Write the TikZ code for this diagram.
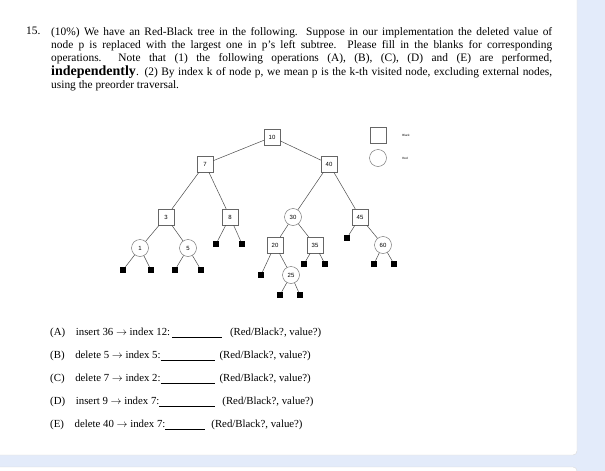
\documentclass[tikz,border=0pt]{standalone}
\usepackage{fontspec}
\setmainfont{Liberation Serif}
\newfontfamily\hel{Liberation Sans}
\begin{document}
\begin{tikzpicture}[x=1pt,y=-1pt,
  bnode/.style={draw=black!60,minimum size=16pt,inner sep=0pt,font=\hel\fontsize{6}{7}\selectfont},
  rnode/.style={draw=black!60,circle,minimum size=17pt,inner sep=0pt,font=\hel\fontsize{6}{7}\selectfont},
  leaf/.style={fill=black,minimum size=6pt,inner sep=0pt},
  edge/.style={draw=black!70,line width=0.5pt},
  qtext/.style={anchor=west,font=\fontsize{10.8}{12}\selectfont,inner sep=0pt}]
\useasboundingbox (0,0) rectangle (605,471);
\fill[fill={rgb,255:red,227;green,235;blue,250}] (0,0) rectangle (605,471);
\filldraw[fill=white,draw=black!15,rounded corners=4pt] (-5,-5) rectangle (577,455);
\filldraw[fill=white,draw=black!15,rounded corners=4pt] (-5,467) rectangle (577,480);
\node[anchor=north west,inner sep=0pt,font=\fontsize{11.4}{13.3}\selectfont] at (26,27) {15.};
\node[anchor=north west,inner sep=0pt,text width=501pt,align=justify,font=\fontsize{11.4}{13.3}\selectfont] at (51,27)
{(10\%) We have an Red-Black tree in the following. Suppose in our implementation the deleted value of\linebreak node p is replaced with the largest one in p's left subtree. Please fill in the blanks for corresponding\linebreak operations.\ \ Note that (1) the following operations (A), (B), (C), (D) and (E) are performed,\linebreak {\bfseries\fontsize{14}{13.3}\selectfont independently}. (2) By index k of node p, we mean p is the k-th visited node, excluding external nodes,\linebreak using the preorder traversal.};
% tree
\node[bnode] (n10) at (272,137) {10};
\node[bnode] (n7) at (205,164) {7};
\node[bnode] (n40) at (329,164) {40};
\node[bnode] (n3) at (166,217) {3};
\node[bnode] (n8) at (230,217) {8};
\node[rnode] (n30) at (293,217) {30};
\node[bnode] (n45) at (360,217) {45};
\node[rnode] (n1) at (140,248) {1};
\node[rnode] (n5) at (188,248) {5};
\node[bnode] (n20) at (275,245) {20};
\node[bnode] (n35) at (315,245) {35};
\node[rnode] (n60) at (383,245) {60};
\node[rnode] (n25) at (291,275) {25};
\node[leaf] (l1) at (123,270) {}; \node[leaf] (l2) at (151,270) {};
\node[leaf] (l3) at (175,270) {}; \node[leaf] (l4) at (201,270) {};
\node[leaf] (l5) at (216,244) {}; \node[leaf] (l6) at (242,244) {};
\node[leaf] (l7) at (261,275) {};
\node[leaf] (l8) at (280,295) {}; \node[leaf] (l9) at (300,295) {};
\node[leaf] (l10) at (304,264) {}; \node[leaf] (l11) at (325,264) {};
\node[leaf] (l12) at (347,238) {};
\node[leaf] (l13) at (374,264) {}; \node[leaf] (l14) at (394,264) {};
\foreach \a/\b in {n10/n7,n10/n40,n7/n3,n7/n8,n40/n30,n40/n45,n3/n1,n3/n5,n30/n20,n30/n35,n45/n60,n20/n25,
  n1/l1,n1/l2,n5/l3,n5/l4,n8/l5,n8/l6,n20/l7,n25/l8,n25/l9,n35/l10,n35/l11,n45/l12,n60/l13,n60/l14}
  \draw[edge] (\a) -- (\b);
% legend
\node[bnode] (lb) at (378,135) {};
\node[rnode] (lr) at (378,158) {};
\node[font=\hel\fontsize{3}{4}\selectfont] (tb) at (406,135) {Black};
\node[font=\hel\fontsize{3}{4}\selectfont] (tr) at (405,158) {Red};
% questions
\node[qtext] (qa) at (50,333) {(A)\hspace{8pt} insert 36 $\rightarrow$ index 12:\,\underline{\hspace{50pt}}\hspace{8pt}(Red/Black?, value?)};
\node[qtext] (qb) at (50,356) {(B)\hspace{8pt} delete 5 $\rightarrow$ index 5:\underline{\hspace{54pt}}\hspace{5pt}(Red/Black?, value?)};
\node[qtext] (qc) at (50,379) {(C)\hspace{8pt} delete 7 $\rightarrow$ index 2:\underline{\hspace{54pt}}\hspace{5pt}(Red/Black?, value?)};
\node[qtext] (qd) at (50,402) {(D)\hspace{8pt} insert 9 $\rightarrow$ index 7:\underline{\hspace{56pt}}\hspace{7pt}(Red/Black?, value?)};
\node[qtext] (qe) at (50,425) {(E)\hspace{8pt} delete 40 $\rightarrow$ index 7:\underline{\hspace{40pt}}\hspace{6pt}(Red/Black?, value?)};
\end{tikzpicture}
\end{document}
